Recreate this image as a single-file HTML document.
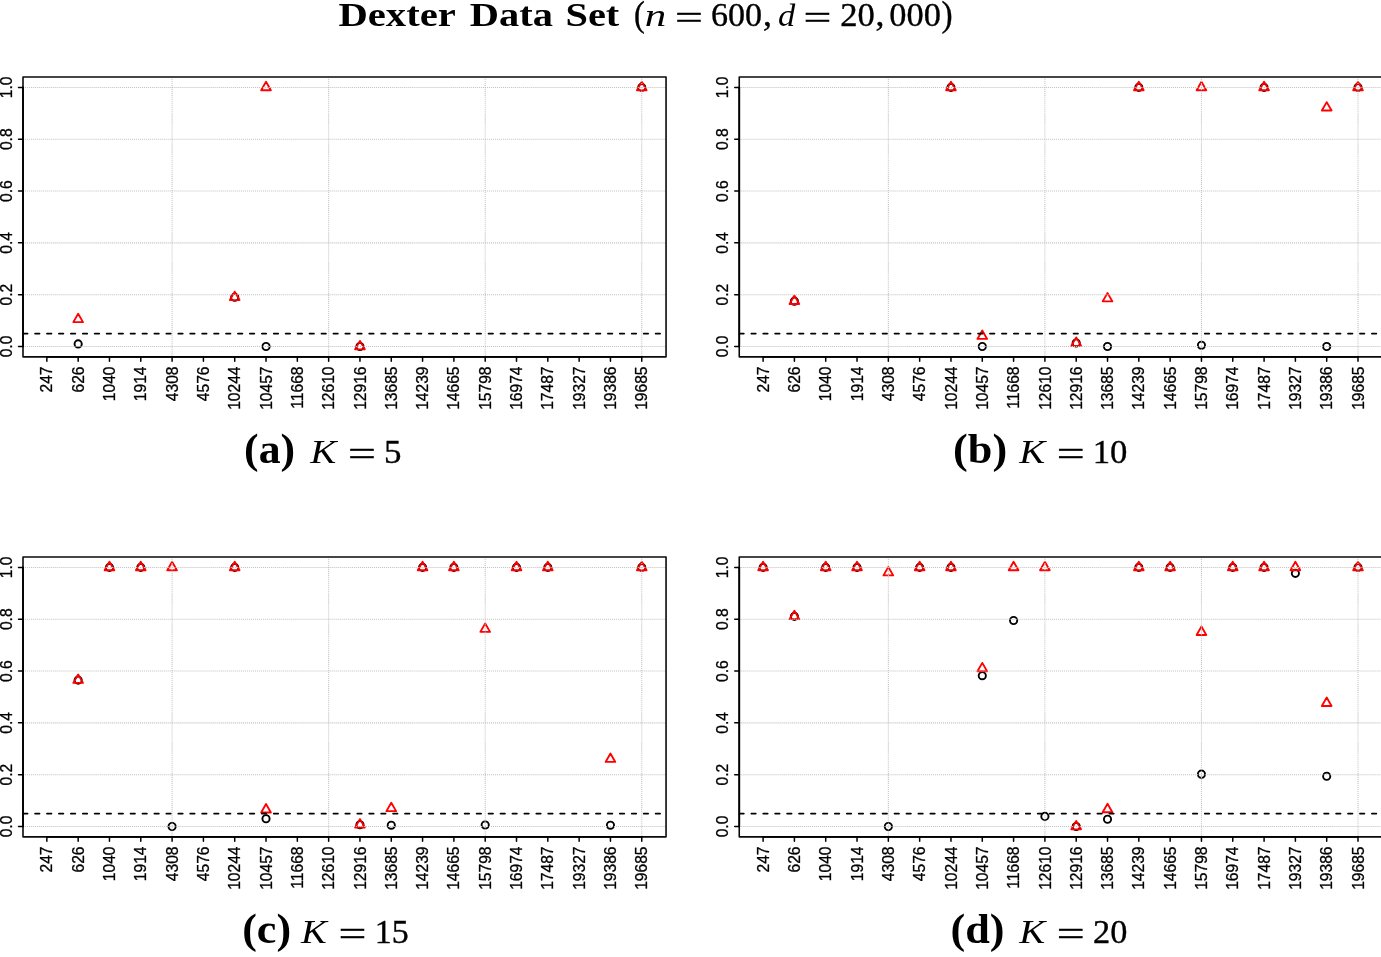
<!DOCTYPE html>
<html lang="en"><head><meta charset="utf-8"><title>Dexter Data Set</title>
<style>
html,body{margin:0;padding:0;background:#fff}
body{width:1381px;height:957px;overflow:hidden}
svg{display:block}
.c{fill:none;stroke:#000;stroke-width:1.9}
.t{fill:none;stroke:#f00;stroke-width:1.85;stroke-linejoin:round}
.g{stroke:#c4c4c4;stroke-width:1.05;stroke-dasharray:1.1 0.917;fill:none}
.d{stroke:#000;stroke-width:1.7;stroke-dasharray:4.5 7.434;stroke-linecap:round;fill:none}
.b{fill:none;stroke:#0a0a0a;stroke-width:1.6;stroke-linejoin:round}
.x{stroke:#000;stroke-width:1.8;stroke-linecap:round}
.k{stroke:#000;stroke-width:1.5;stroke-linecap:round}
.a{font-family:"Liberation Sans",Arial,Helvetica,sans-serif;font-size:15.6px;fill:#000;stroke:#000;stroke-width:0.3px}
.tl{font-family:"Liberation Serif","Times New Roman",serif;font-weight:bold;font-size:33px;fill:#000}
.cb{font-family:"Liberation Serif","Times New Roman",serif;font-weight:bold;font-size:42px;fill:#000}
.m{font-family:"Liberation Serif","Times New Roman",serif;font-size:32px;fill:#000;stroke:#000;stroke-width:0.35px}
.mi{font-family:"Liberation Serif","Times New Roman",serif;font-style:italic;font-size:32px;fill:#000}
</style></head>
<body>
<svg width="1381" height="957" viewBox="0 0 1381 957">
<rect width="1381" height="957" fill="#fff"/>
<g transform="translate(0,0)">
<circle cx="78.16" cy="343.91" r="3.6" class="c"/>
<circle cx="234.72" cy="297.27" r="3.6" class="c"/>
<circle cx="266.03" cy="346.50" r="3.6" class="c"/>
<circle cx="359.96" cy="346.50" r="3.6" class="c"/>
<circle cx="641.76" cy="87.40" r="3.6" class="c"/>
<path d="M78.16 313.70L83.01 322.09L73.31 322.09Z" class="t"/>
<path d="M234.72 291.67L239.56 300.07L229.87 300.07Z" class="t"/>
<path d="M266.03 81.80L270.88 90.20L261.18 90.20Z" class="t"/>
<path d="M359.96 340.90L364.81 349.30L355.11 349.30Z" class="t"/>
<path d="M641.76 81.80L646.61 90.20L636.91 90.20Z" class="t"/>
<line x1="172.09" x2="172.09" y1="76.97" y2="356.85" class="g"/>
<line x1="328.65" x2="328.65" y1="76.97" y2="356.85" class="g"/>
<line x1="485.20" x2="485.20" y1="76.97" y2="356.85" class="g"/>
<line x1="641.76" x2="641.76" y1="76.97" y2="356.85" class="g"/>
<line x1="23.0" x2="666.05" y1="346.50" y2="346.50" class="g"/>
<line x1="23.0" x2="666.05" y1="294.68" y2="294.68" class="g"/>
<line x1="23.0" x2="666.05" y1="242.86" y2="242.86" class="g"/>
<line x1="23.0" x2="666.05" y1="191.04" y2="191.04" class="g"/>
<line x1="23.0" x2="666.05" y1="139.22" y2="139.22" class="g"/>
<line x1="23.0" x2="666.05" y1="87.40" y2="87.40" class="g"/>
<line x1="23.1" x2="666.05" y1="333.55" y2="333.55" class="d"/>
<rect x="23.0" y="76.97" width="643.05" height="279.88" class="b"/>
<line x1="46.85" x2="641.76" y1="356.8" y2="356.8" class="x"/>
<line x1="23.0" x2="23.0" y1="346.50" y2="87.40" class="x"/>
<line x1="46.85" x2="46.85" y1="356.85" y2="361.25" class="k"/>
<text transform="translate(52.45,366.45) rotate(-90)" text-anchor="end" class="a">247</text>
<line x1="78.16" x2="78.16" y1="356.85" y2="361.25" class="k"/>
<text transform="translate(83.76,366.45) rotate(-90)" text-anchor="end" class="a">626</text>
<line x1="109.47" x2="109.47" y1="356.85" y2="361.25" class="k"/>
<text transform="translate(115.07,366.45) rotate(-90)" text-anchor="end" class="a">1040</text>
<line x1="140.78" x2="140.78" y1="356.85" y2="361.25" class="k"/>
<text transform="translate(146.38,366.45) rotate(-90)" text-anchor="end" class="a">1914</text>
<line x1="172.09" x2="172.09" y1="356.85" y2="361.25" class="k"/>
<text transform="translate(177.69,366.45) rotate(-90)" text-anchor="end" class="a">4308</text>
<line x1="203.41" x2="203.41" y1="356.85" y2="361.25" class="k"/>
<text transform="translate(209.00,366.45) rotate(-90)" text-anchor="end" class="a">4576</text>
<line x1="234.72" x2="234.72" y1="356.85" y2="361.25" class="k"/>
<text transform="translate(240.32,366.45) rotate(-90)" text-anchor="end" class="a">10244</text>
<line x1="266.03" x2="266.03" y1="356.85" y2="361.25" class="k"/>
<text transform="translate(271.63,366.45) rotate(-90)" text-anchor="end" class="a">10457</text>
<line x1="297.34" x2="297.34" y1="356.85" y2="361.25" class="k"/>
<text transform="translate(302.94,366.45) rotate(-90)" text-anchor="end" class="a">11668</text>
<line x1="328.65" x2="328.65" y1="356.85" y2="361.25" class="k"/>
<text transform="translate(334.25,366.45) rotate(-90)" text-anchor="end" class="a">12610</text>
<line x1="359.96" x2="359.96" y1="356.85" y2="361.25" class="k"/>
<text transform="translate(365.56,366.45) rotate(-90)" text-anchor="end" class="a">12916</text>
<line x1="391.27" x2="391.27" y1="356.85" y2="361.25" class="k"/>
<text transform="translate(396.87,366.45) rotate(-90)" text-anchor="end" class="a">13685</text>
<line x1="422.58" x2="422.58" y1="356.85" y2="361.25" class="k"/>
<text transform="translate(428.18,366.45) rotate(-90)" text-anchor="end" class="a">14239</text>
<line x1="453.89" x2="453.89" y1="356.85" y2="361.25" class="k"/>
<text transform="translate(459.49,366.45) rotate(-90)" text-anchor="end" class="a">14665</text>
<line x1="485.20" x2="485.20" y1="356.85" y2="361.25" class="k"/>
<text transform="translate(490.80,366.45) rotate(-90)" text-anchor="end" class="a">15798</text>
<line x1="516.51" x2="516.51" y1="356.85" y2="361.25" class="k"/>
<text transform="translate(522.12,366.45) rotate(-90)" text-anchor="end" class="a">16974</text>
<line x1="547.83" x2="547.83" y1="356.85" y2="361.25" class="k"/>
<text transform="translate(553.43,366.45) rotate(-90)" text-anchor="end" class="a">17487</text>
<line x1="579.14" x2="579.14" y1="356.85" y2="361.25" class="k"/>
<text transform="translate(584.74,366.45) rotate(-90)" text-anchor="end" class="a">19327</text>
<line x1="610.45" x2="610.45" y1="356.85" y2="361.25" class="k"/>
<text transform="translate(616.05,366.45) rotate(-90)" text-anchor="end" class="a">19386</text>
<line x1="641.76" x2="641.76" y1="356.85" y2="361.25" class="k"/>
<text transform="translate(647.36,366.45) rotate(-90)" text-anchor="end" class="a">19685</text>
<line x1="23.0" x2="18.5" y1="346.50" y2="346.50" class="k"/>
<text transform="translate(11.55,346.50) rotate(-90)" text-anchor="middle" class="a">0.0</text>
<line x1="23.0" x2="18.5" y1="294.68" y2="294.68" class="k"/>
<text transform="translate(11.55,294.68) rotate(-90)" text-anchor="middle" class="a">0.2</text>
<line x1="23.0" x2="18.5" y1="242.86" y2="242.86" class="k"/>
<text transform="translate(11.55,242.86) rotate(-90)" text-anchor="middle" class="a">0.4</text>
<line x1="23.0" x2="18.5" y1="191.04" y2="191.04" class="k"/>
<text transform="translate(11.55,191.04) rotate(-90)" text-anchor="middle" class="a">0.6</text>
<line x1="23.0" x2="18.5" y1="139.22" y2="139.22" class="k"/>
<text transform="translate(11.55,139.22) rotate(-90)" text-anchor="middle" class="a">0.8</text>
<line x1="23.0" x2="18.5" y1="87.40" y2="87.40" class="k"/>
<text transform="translate(11.55,87.40) rotate(-90)" text-anchor="middle" class="a">1.0</text>
</g>
<g transform="translate(716.25,0)">
<circle cx="78.16" cy="301.16" r="3.6" class="c"/>
<circle cx="234.72" cy="87.40" r="3.6" class="c"/>
<circle cx="266.03" cy="346.50" r="3.6" class="c"/>
<circle cx="359.96" cy="343.00" r="3.6" class="c"/>
<circle cx="391.27" cy="346.50" r="3.6" class="c"/>
<circle cx="422.58" cy="87.40" r="3.6" class="c"/>
<circle cx="485.20" cy="345.20" r="3.6" class="c"/>
<circle cx="547.83" cy="87.40" r="3.6" class="c"/>
<circle cx="610.45" cy="346.50" r="3.6" class="c"/>
<circle cx="641.76" cy="87.40" r="3.6" class="c"/>
<path d="M78.16 295.56L83.01 303.96L73.31 303.96Z" class="t"/>
<path d="M234.72 81.80L239.56 90.20L229.87 90.20Z" class="t"/>
<path d="M266.03 330.54L270.88 338.94L261.18 338.94Z" class="t"/>
<path d="M359.96 337.40L364.81 345.80L355.11 345.80Z" class="t"/>
<path d="M391.27 292.97L396.12 301.37L386.42 301.37Z" class="t"/>
<path d="M422.58 81.80L427.43 90.20L417.73 90.20Z" class="t"/>
<path d="M485.20 81.80L490.05 90.20L480.36 90.20Z" class="t"/>
<path d="M547.83 81.80L552.67 90.20L542.98 90.20Z" class="t"/>
<path d="M610.45 102.14L615.30 110.54L605.60 110.54Z" class="t"/>
<path d="M641.76 81.80L646.61 90.20L636.91 90.20Z" class="t"/>
<line x1="172.09" x2="172.09" y1="76.97" y2="356.85" class="g"/>
<line x1="328.65" x2="328.65" y1="76.97" y2="356.85" class="g"/>
<line x1="485.20" x2="485.20" y1="76.97" y2="356.85" class="g"/>
<line x1="641.76" x2="641.76" y1="76.97" y2="356.85" class="g"/>
<line x1="23.0" x2="666.05" y1="346.50" y2="346.50" class="g"/>
<line x1="23.0" x2="666.05" y1="294.68" y2="294.68" class="g"/>
<line x1="23.0" x2="666.05" y1="242.86" y2="242.86" class="g"/>
<line x1="23.0" x2="666.05" y1="191.04" y2="191.04" class="g"/>
<line x1="23.0" x2="666.05" y1="139.22" y2="139.22" class="g"/>
<line x1="23.0" x2="666.05" y1="87.40" y2="87.40" class="g"/>
<line x1="23.1" x2="666.05" y1="333.55" y2="333.55" class="d"/>
<rect x="23.0" y="76.97" width="643.05" height="279.88" class="b"/>
<line x1="46.85" x2="641.76" y1="356.8" y2="356.8" class="x"/>
<line x1="23.0" x2="23.0" y1="346.50" y2="87.40" class="x"/>
<line x1="46.85" x2="46.85" y1="356.85" y2="361.25" class="k"/>
<text transform="translate(52.45,366.45) rotate(-90)" text-anchor="end" class="a">247</text>
<line x1="78.16" x2="78.16" y1="356.85" y2="361.25" class="k"/>
<text transform="translate(83.76,366.45) rotate(-90)" text-anchor="end" class="a">626</text>
<line x1="109.47" x2="109.47" y1="356.85" y2="361.25" class="k"/>
<text transform="translate(115.07,366.45) rotate(-90)" text-anchor="end" class="a">1040</text>
<line x1="140.78" x2="140.78" y1="356.85" y2="361.25" class="k"/>
<text transform="translate(146.38,366.45) rotate(-90)" text-anchor="end" class="a">1914</text>
<line x1="172.09" x2="172.09" y1="356.85" y2="361.25" class="k"/>
<text transform="translate(177.69,366.45) rotate(-90)" text-anchor="end" class="a">4308</text>
<line x1="203.41" x2="203.41" y1="356.85" y2="361.25" class="k"/>
<text transform="translate(209.00,366.45) rotate(-90)" text-anchor="end" class="a">4576</text>
<line x1="234.72" x2="234.72" y1="356.85" y2="361.25" class="k"/>
<text transform="translate(240.32,366.45) rotate(-90)" text-anchor="end" class="a">10244</text>
<line x1="266.03" x2="266.03" y1="356.85" y2="361.25" class="k"/>
<text transform="translate(271.63,366.45) rotate(-90)" text-anchor="end" class="a">10457</text>
<line x1="297.34" x2="297.34" y1="356.85" y2="361.25" class="k"/>
<text transform="translate(302.94,366.45) rotate(-90)" text-anchor="end" class="a">11668</text>
<line x1="328.65" x2="328.65" y1="356.85" y2="361.25" class="k"/>
<text transform="translate(334.25,366.45) rotate(-90)" text-anchor="end" class="a">12610</text>
<line x1="359.96" x2="359.96" y1="356.85" y2="361.25" class="k"/>
<text transform="translate(365.56,366.45) rotate(-90)" text-anchor="end" class="a">12916</text>
<line x1="391.27" x2="391.27" y1="356.85" y2="361.25" class="k"/>
<text transform="translate(396.87,366.45) rotate(-90)" text-anchor="end" class="a">13685</text>
<line x1="422.58" x2="422.58" y1="356.85" y2="361.25" class="k"/>
<text transform="translate(428.18,366.45) rotate(-90)" text-anchor="end" class="a">14239</text>
<line x1="453.89" x2="453.89" y1="356.85" y2="361.25" class="k"/>
<text transform="translate(459.49,366.45) rotate(-90)" text-anchor="end" class="a">14665</text>
<line x1="485.20" x2="485.20" y1="356.85" y2="361.25" class="k"/>
<text transform="translate(490.80,366.45) rotate(-90)" text-anchor="end" class="a">15798</text>
<line x1="516.51" x2="516.51" y1="356.85" y2="361.25" class="k"/>
<text transform="translate(522.12,366.45) rotate(-90)" text-anchor="end" class="a">16974</text>
<line x1="547.83" x2="547.83" y1="356.85" y2="361.25" class="k"/>
<text transform="translate(553.43,366.45) rotate(-90)" text-anchor="end" class="a">17487</text>
<line x1="579.14" x2="579.14" y1="356.85" y2="361.25" class="k"/>
<text transform="translate(584.74,366.45) rotate(-90)" text-anchor="end" class="a">19327</text>
<line x1="610.45" x2="610.45" y1="356.85" y2="361.25" class="k"/>
<text transform="translate(616.05,366.45) rotate(-90)" text-anchor="end" class="a">19386</text>
<line x1="641.76" x2="641.76" y1="356.85" y2="361.25" class="k"/>
<text transform="translate(647.36,366.45) rotate(-90)" text-anchor="end" class="a">19685</text>
<line x1="23.0" x2="18.5" y1="346.50" y2="346.50" class="k"/>
<text transform="translate(11.55,346.50) rotate(-90)" text-anchor="middle" class="a">0.0</text>
<line x1="23.0" x2="18.5" y1="294.68" y2="294.68" class="k"/>
<text transform="translate(11.55,294.68) rotate(-90)" text-anchor="middle" class="a">0.2</text>
<line x1="23.0" x2="18.5" y1="242.86" y2="242.86" class="k"/>
<text transform="translate(11.55,242.86) rotate(-90)" text-anchor="middle" class="a">0.4</text>
<line x1="23.0" x2="18.5" y1="191.04" y2="191.04" class="k"/>
<text transform="translate(11.55,191.04) rotate(-90)" text-anchor="middle" class="a">0.6</text>
<line x1="23.0" x2="18.5" y1="139.22" y2="139.22" class="k"/>
<text transform="translate(11.55,139.22) rotate(-90)" text-anchor="middle" class="a">0.8</text>
<line x1="23.0" x2="18.5" y1="87.40" y2="87.40" class="k"/>
<text transform="translate(11.55,87.40) rotate(-90)" text-anchor="middle" class="a">1.0</text>
</g>
<g transform="translate(0,480)">
<circle cx="78.16" cy="200.11" r="3.6" class="c"/>
<circle cx="109.47" cy="87.40" r="3.6" class="c"/>
<circle cx="140.78" cy="87.40" r="3.6" class="c"/>
<circle cx="172.09" cy="346.50" r="3.6" class="c"/>
<circle cx="234.72" cy="87.40" r="3.6" class="c"/>
<circle cx="266.03" cy="338.73" r="3.6" class="c"/>
<circle cx="359.96" cy="344.69" r="3.6" class="c"/>
<circle cx="391.27" cy="345.20" r="3.6" class="c"/>
<circle cx="422.58" cy="87.40" r="3.6" class="c"/>
<circle cx="453.89" cy="87.40" r="3.6" class="c"/>
<circle cx="485.20" cy="344.95" r="3.6" class="c"/>
<circle cx="516.51" cy="87.40" r="3.6" class="c"/>
<circle cx="547.83" cy="87.40" r="3.6" class="c"/>
<circle cx="610.45" cy="345.20" r="3.6" class="c"/>
<circle cx="641.76" cy="87.40" r="3.6" class="c"/>
<path d="M78.16 194.51L83.01 202.91L73.31 202.91Z" class="t"/>
<path d="M109.47 81.80L114.32 90.20L104.62 90.20Z" class="t"/>
<path d="M140.78 81.80L145.63 90.20L135.93 90.20Z" class="t"/>
<path d="M172.09 81.80L176.94 90.20L167.25 90.20Z" class="t"/>
<path d="M234.72 81.80L239.56 90.20L229.87 90.20Z" class="t"/>
<path d="M266.03 324.06L270.88 332.46L261.18 332.46Z" class="t"/>
<path d="M359.96 339.09L364.81 347.49L355.11 347.49Z" class="t"/>
<path d="M391.27 322.76L396.12 331.16L386.42 331.16Z" class="t"/>
<path d="M422.58 81.80L427.43 90.20L417.73 90.20Z" class="t"/>
<path d="M453.89 81.80L458.74 90.20L449.04 90.20Z" class="t"/>
<path d="M485.20 143.47L490.05 151.87L480.36 151.87Z" class="t"/>
<path d="M516.51 81.80L521.36 90.20L511.67 90.20Z" class="t"/>
<path d="M547.83 81.80L552.67 90.20L542.98 90.20Z" class="t"/>
<path d="M610.45 273.54L615.30 281.93L605.60 281.93Z" class="t"/>
<path d="M641.76 81.80L646.61 90.20L636.91 90.20Z" class="t"/>
<line x1="172.09" x2="172.09" y1="76.97" y2="356.85" class="g"/>
<line x1="328.65" x2="328.65" y1="76.97" y2="356.85" class="g"/>
<line x1="485.20" x2="485.20" y1="76.97" y2="356.85" class="g"/>
<line x1="641.76" x2="641.76" y1="76.97" y2="356.85" class="g"/>
<line x1="23.0" x2="666.05" y1="346.50" y2="346.50" class="g"/>
<line x1="23.0" x2="666.05" y1="294.68" y2="294.68" class="g"/>
<line x1="23.0" x2="666.05" y1="242.86" y2="242.86" class="g"/>
<line x1="23.0" x2="666.05" y1="191.04" y2="191.04" class="g"/>
<line x1="23.0" x2="666.05" y1="139.22" y2="139.22" class="g"/>
<line x1="23.0" x2="666.05" y1="87.40" y2="87.40" class="g"/>
<line x1="23.1" x2="666.05" y1="333.55" y2="333.55" class="d"/>
<rect x="23.0" y="76.97" width="643.05" height="279.88" class="b"/>
<line x1="46.85" x2="641.76" y1="356.8" y2="356.8" class="x"/>
<line x1="23.0" x2="23.0" y1="346.50" y2="87.40" class="x"/>
<line x1="46.85" x2="46.85" y1="356.85" y2="361.25" class="k"/>
<text transform="translate(52.45,366.45) rotate(-90)" text-anchor="end" class="a">247</text>
<line x1="78.16" x2="78.16" y1="356.85" y2="361.25" class="k"/>
<text transform="translate(83.76,366.45) rotate(-90)" text-anchor="end" class="a">626</text>
<line x1="109.47" x2="109.47" y1="356.85" y2="361.25" class="k"/>
<text transform="translate(115.07,366.45) rotate(-90)" text-anchor="end" class="a">1040</text>
<line x1="140.78" x2="140.78" y1="356.85" y2="361.25" class="k"/>
<text transform="translate(146.38,366.45) rotate(-90)" text-anchor="end" class="a">1914</text>
<line x1="172.09" x2="172.09" y1="356.85" y2="361.25" class="k"/>
<text transform="translate(177.69,366.45) rotate(-90)" text-anchor="end" class="a">4308</text>
<line x1="203.41" x2="203.41" y1="356.85" y2="361.25" class="k"/>
<text transform="translate(209.00,366.45) rotate(-90)" text-anchor="end" class="a">4576</text>
<line x1="234.72" x2="234.72" y1="356.85" y2="361.25" class="k"/>
<text transform="translate(240.32,366.45) rotate(-90)" text-anchor="end" class="a">10244</text>
<line x1="266.03" x2="266.03" y1="356.85" y2="361.25" class="k"/>
<text transform="translate(271.63,366.45) rotate(-90)" text-anchor="end" class="a">10457</text>
<line x1="297.34" x2="297.34" y1="356.85" y2="361.25" class="k"/>
<text transform="translate(302.94,366.45) rotate(-90)" text-anchor="end" class="a">11668</text>
<line x1="328.65" x2="328.65" y1="356.85" y2="361.25" class="k"/>
<text transform="translate(334.25,366.45) rotate(-90)" text-anchor="end" class="a">12610</text>
<line x1="359.96" x2="359.96" y1="356.85" y2="361.25" class="k"/>
<text transform="translate(365.56,366.45) rotate(-90)" text-anchor="end" class="a">12916</text>
<line x1="391.27" x2="391.27" y1="356.85" y2="361.25" class="k"/>
<text transform="translate(396.87,366.45) rotate(-90)" text-anchor="end" class="a">13685</text>
<line x1="422.58" x2="422.58" y1="356.85" y2="361.25" class="k"/>
<text transform="translate(428.18,366.45) rotate(-90)" text-anchor="end" class="a">14239</text>
<line x1="453.89" x2="453.89" y1="356.85" y2="361.25" class="k"/>
<text transform="translate(459.49,366.45) rotate(-90)" text-anchor="end" class="a">14665</text>
<line x1="485.20" x2="485.20" y1="356.85" y2="361.25" class="k"/>
<text transform="translate(490.80,366.45) rotate(-90)" text-anchor="end" class="a">15798</text>
<line x1="516.51" x2="516.51" y1="356.85" y2="361.25" class="k"/>
<text transform="translate(522.12,366.45) rotate(-90)" text-anchor="end" class="a">16974</text>
<line x1="547.83" x2="547.83" y1="356.85" y2="361.25" class="k"/>
<text transform="translate(553.43,366.45) rotate(-90)" text-anchor="end" class="a">17487</text>
<line x1="579.14" x2="579.14" y1="356.85" y2="361.25" class="k"/>
<text transform="translate(584.74,366.45) rotate(-90)" text-anchor="end" class="a">19327</text>
<line x1="610.45" x2="610.45" y1="356.85" y2="361.25" class="k"/>
<text transform="translate(616.05,366.45) rotate(-90)" text-anchor="end" class="a">19386</text>
<line x1="641.76" x2="641.76" y1="356.85" y2="361.25" class="k"/>
<text transform="translate(647.36,366.45) rotate(-90)" text-anchor="end" class="a">19685</text>
<line x1="23.0" x2="18.5" y1="346.50" y2="346.50" class="k"/>
<text transform="translate(11.55,346.50) rotate(-90)" text-anchor="middle" class="a">0.0</text>
<line x1="23.0" x2="18.5" y1="294.68" y2="294.68" class="k"/>
<text transform="translate(11.55,294.68) rotate(-90)" text-anchor="middle" class="a">0.2</text>
<line x1="23.0" x2="18.5" y1="242.86" y2="242.86" class="k"/>
<text transform="translate(11.55,242.86) rotate(-90)" text-anchor="middle" class="a">0.4</text>
<line x1="23.0" x2="18.5" y1="191.04" y2="191.04" class="k"/>
<text transform="translate(11.55,191.04) rotate(-90)" text-anchor="middle" class="a">0.6</text>
<line x1="23.0" x2="18.5" y1="139.22" y2="139.22" class="k"/>
<text transform="translate(11.55,139.22) rotate(-90)" text-anchor="middle" class="a">0.8</text>
<line x1="23.0" x2="18.5" y1="87.40" y2="87.40" class="k"/>
<text transform="translate(11.55,87.40) rotate(-90)" text-anchor="middle" class="a">1.0</text>
</g>
<g transform="translate(716.25,480)">
<circle cx="46.85" cy="87.40" r="3.6" class="c"/>
<circle cx="78.16" cy="136.37" r="3.6" class="c"/>
<circle cx="109.47" cy="87.40" r="3.6" class="c"/>
<circle cx="140.78" cy="87.40" r="3.6" class="c"/>
<circle cx="172.09" cy="346.50" r="3.6" class="c"/>
<circle cx="203.41" cy="87.40" r="3.6" class="c"/>
<circle cx="234.72" cy="87.40" r="3.6" class="c"/>
<circle cx="266.03" cy="195.70" r="3.6" class="c"/>
<circle cx="297.34" cy="140.52" r="3.6" class="c"/>
<circle cx="328.65" cy="336.40" r="3.6" class="c"/>
<circle cx="359.96" cy="346.50" r="3.6" class="c"/>
<circle cx="391.27" cy="339.25" r="3.6" class="c"/>
<circle cx="422.58" cy="87.40" r="3.6" class="c"/>
<circle cx="453.89" cy="87.40" r="3.6" class="c"/>
<circle cx="485.20" cy="294.16" r="3.6" class="c"/>
<circle cx="516.51" cy="87.40" r="3.6" class="c"/>
<circle cx="547.83" cy="87.40" r="3.6" class="c"/>
<circle cx="579.14" cy="93.36" r="3.6" class="c"/>
<circle cx="610.45" cy="296.23" r="3.6" class="c"/>
<circle cx="641.76" cy="87.40" r="3.6" class="c"/>
<path d="M46.85 81.80L51.70 90.20L42.00 90.20Z" class="t"/>
<path d="M78.16 130.77L83.01 139.17L73.31 139.17Z" class="t"/>
<path d="M109.47 81.80L114.32 90.20L104.62 90.20Z" class="t"/>
<path d="M140.78 81.80L145.63 90.20L135.93 90.20Z" class="t"/>
<path d="M172.09 86.98L176.94 95.38L167.25 95.38Z" class="t"/>
<path d="M203.41 81.80L208.25 90.20L198.56 90.20Z" class="t"/>
<path d="M234.72 81.80L239.56 90.20L229.87 90.20Z" class="t"/>
<path d="M266.03 182.85L270.88 191.25L261.18 191.25Z" class="t"/>
<path d="M297.34 81.80L302.19 90.20L292.49 90.20Z" class="t"/>
<path d="M328.65 81.80L333.50 90.20L323.80 90.20Z" class="t"/>
<path d="M359.96 340.90L364.81 349.30L355.11 349.30Z" class="t"/>
<path d="M391.27 323.80L396.12 332.20L386.42 332.20Z" class="t"/>
<path d="M422.58 81.80L427.43 90.20L417.73 90.20Z" class="t"/>
<path d="M453.89 81.80L458.74 90.20L449.04 90.20Z" class="t"/>
<path d="M485.20 146.58L490.05 154.97L480.36 154.97Z" class="t"/>
<path d="M516.51 81.80L521.36 90.20L511.67 90.20Z" class="t"/>
<path d="M547.83 81.80L552.67 90.20L542.98 90.20Z" class="t"/>
<path d="M579.14 81.80L583.99 90.20L574.29 90.20Z" class="t"/>
<path d="M610.45 217.57L615.30 225.97L605.60 225.97Z" class="t"/>
<path d="M641.76 81.80L646.61 90.20L636.91 90.20Z" class="t"/>
<line x1="172.09" x2="172.09" y1="76.97" y2="356.85" class="g"/>
<line x1="328.65" x2="328.65" y1="76.97" y2="356.85" class="g"/>
<line x1="485.20" x2="485.20" y1="76.97" y2="356.85" class="g"/>
<line x1="641.76" x2="641.76" y1="76.97" y2="356.85" class="g"/>
<line x1="23.0" x2="666.05" y1="346.50" y2="346.50" class="g"/>
<line x1="23.0" x2="666.05" y1="294.68" y2="294.68" class="g"/>
<line x1="23.0" x2="666.05" y1="242.86" y2="242.86" class="g"/>
<line x1="23.0" x2="666.05" y1="191.04" y2="191.04" class="g"/>
<line x1="23.0" x2="666.05" y1="139.22" y2="139.22" class="g"/>
<line x1="23.0" x2="666.05" y1="87.40" y2="87.40" class="g"/>
<line x1="23.1" x2="666.05" y1="333.55" y2="333.55" class="d"/>
<rect x="23.0" y="76.97" width="643.05" height="279.88" class="b"/>
<line x1="46.85" x2="641.76" y1="356.8" y2="356.8" class="x"/>
<line x1="23.0" x2="23.0" y1="346.50" y2="87.40" class="x"/>
<line x1="46.85" x2="46.85" y1="356.85" y2="361.25" class="k"/>
<text transform="translate(52.45,366.45) rotate(-90)" text-anchor="end" class="a">247</text>
<line x1="78.16" x2="78.16" y1="356.85" y2="361.25" class="k"/>
<text transform="translate(83.76,366.45) rotate(-90)" text-anchor="end" class="a">626</text>
<line x1="109.47" x2="109.47" y1="356.85" y2="361.25" class="k"/>
<text transform="translate(115.07,366.45) rotate(-90)" text-anchor="end" class="a">1040</text>
<line x1="140.78" x2="140.78" y1="356.85" y2="361.25" class="k"/>
<text transform="translate(146.38,366.45) rotate(-90)" text-anchor="end" class="a">1914</text>
<line x1="172.09" x2="172.09" y1="356.85" y2="361.25" class="k"/>
<text transform="translate(177.69,366.45) rotate(-90)" text-anchor="end" class="a">4308</text>
<line x1="203.41" x2="203.41" y1="356.85" y2="361.25" class="k"/>
<text transform="translate(209.00,366.45) rotate(-90)" text-anchor="end" class="a">4576</text>
<line x1="234.72" x2="234.72" y1="356.85" y2="361.25" class="k"/>
<text transform="translate(240.32,366.45) rotate(-90)" text-anchor="end" class="a">10244</text>
<line x1="266.03" x2="266.03" y1="356.85" y2="361.25" class="k"/>
<text transform="translate(271.63,366.45) rotate(-90)" text-anchor="end" class="a">10457</text>
<line x1="297.34" x2="297.34" y1="356.85" y2="361.25" class="k"/>
<text transform="translate(302.94,366.45) rotate(-90)" text-anchor="end" class="a">11668</text>
<line x1="328.65" x2="328.65" y1="356.85" y2="361.25" class="k"/>
<text transform="translate(334.25,366.45) rotate(-90)" text-anchor="end" class="a">12610</text>
<line x1="359.96" x2="359.96" y1="356.85" y2="361.25" class="k"/>
<text transform="translate(365.56,366.45) rotate(-90)" text-anchor="end" class="a">12916</text>
<line x1="391.27" x2="391.27" y1="356.85" y2="361.25" class="k"/>
<text transform="translate(396.87,366.45) rotate(-90)" text-anchor="end" class="a">13685</text>
<line x1="422.58" x2="422.58" y1="356.85" y2="361.25" class="k"/>
<text transform="translate(428.18,366.45) rotate(-90)" text-anchor="end" class="a">14239</text>
<line x1="453.89" x2="453.89" y1="356.85" y2="361.25" class="k"/>
<text transform="translate(459.49,366.45) rotate(-90)" text-anchor="end" class="a">14665</text>
<line x1="485.20" x2="485.20" y1="356.85" y2="361.25" class="k"/>
<text transform="translate(490.80,366.45) rotate(-90)" text-anchor="end" class="a">15798</text>
<line x1="516.51" x2="516.51" y1="356.85" y2="361.25" class="k"/>
<text transform="translate(522.12,366.45) rotate(-90)" text-anchor="end" class="a">16974</text>
<line x1="547.83" x2="547.83" y1="356.85" y2="361.25" class="k"/>
<text transform="translate(553.43,366.45) rotate(-90)" text-anchor="end" class="a">17487</text>
<line x1="579.14" x2="579.14" y1="356.85" y2="361.25" class="k"/>
<text transform="translate(584.74,366.45) rotate(-90)" text-anchor="end" class="a">19327</text>
<line x1="610.45" x2="610.45" y1="356.85" y2="361.25" class="k"/>
<text transform="translate(616.05,366.45) rotate(-90)" text-anchor="end" class="a">19386</text>
<line x1="641.76" x2="641.76" y1="356.85" y2="361.25" class="k"/>
<text transform="translate(647.36,366.45) rotate(-90)" text-anchor="end" class="a">19685</text>
<line x1="23.0" x2="18.5" y1="346.50" y2="346.50" class="k"/>
<text transform="translate(11.55,346.50) rotate(-90)" text-anchor="middle" class="a">0.0</text>
<line x1="23.0" x2="18.5" y1="294.68" y2="294.68" class="k"/>
<text transform="translate(11.55,294.68) rotate(-90)" text-anchor="middle" class="a">0.2</text>
<line x1="23.0" x2="18.5" y1="242.86" y2="242.86" class="k"/>
<text transform="translate(11.55,242.86) rotate(-90)" text-anchor="middle" class="a">0.4</text>
<line x1="23.0" x2="18.5" y1="191.04" y2="191.04" class="k"/>
<text transform="translate(11.55,191.04) rotate(-90)" text-anchor="middle" class="a">0.6</text>
<line x1="23.0" x2="18.5" y1="139.22" y2="139.22" class="k"/>
<text transform="translate(11.55,139.22) rotate(-90)" text-anchor="middle" class="a">0.8</text>
<line x1="23.0" x2="18.5" y1="87.40" y2="87.40" class="k"/>
<text transform="translate(11.55,87.40) rotate(-90)" text-anchor="middle" class="a">1.0</text>
</g>
<text transform="translate(338.48,25.94) scale(1.2319,1.0368)" class="tl">Dexter</text>
<text transform="translate(469.79,25.94) scale(1.2255,1.0368)" class="tl">Data</text>
<text transform="translate(565.46,26.04) scale(1.2238,1.0455)" class="tl">Set</text>
<text transform="translate(633.88,26.18) scale(1.0125,1.0991)" class="m">(</text>
<text transform="translate(644.82,26.10) scale(1.3434,0.9733)" class="mi">n</text>
<text transform="translate(674.88,29.03) scale(1.5467,1.0710)" class="m">=</text>
<text transform="translate(711.00,26.24) scale(1.0652,1.0372)" class="m">600</text>
<text transform="translate(763.11,26.31) scale(1.1158,1.0788)" class="m">,</text>
<text transform="translate(777.92,25.95) scale(1.0800,0.9911)" class="mi">d</text>
<text transform="translate(803.58,29.03) scale(1.5467,1.0710)" class="m">=</text>
<text transform="translate(840.28,26.24) scale(1.0803,1.0372)" class="m">20</text>
<text transform="translate(875.61,26.31) scale(1.1158,1.0788)" class="m">,</text>
<text transform="translate(889.26,26.24) scale(1.0747,1.0372)" class="m">000</text>
<text transform="translate(941.56,26.18) scale(1.0424,1.0991)" class="m">)</text>
<text transform="translate(244.08,462.68) scale(1.0418,0.9960)" class="cb">(a)</text>
<text transform="translate(310.21,462.90) scale(1.2217,1.0619)" class="mi">K</text>
<text transform="translate(347.88,466.19) scale(1.5467,1.1097)" class="m">=</text>
<text transform="translate(384.09,463.13) scale(1.0923,1.0729)" class="m">5</text>
<text transform="translate(953.06,462.68) scale(1.0534,0.9960)" class="cb">(b)</text>
<text transform="translate(1019.20,462.90) scale(1.2174,1.0619)" class="mi">K</text>
<text transform="translate(1056.68,466.19) scale(1.5467,1.1097)" class="m">=</text>
<text transform="translate(1092.71,463.13) scale(1.0857,1.0605)" class="m">10</text>
<text transform="translate(242.22,942.93) scale(1.0477,0.9960)" class="cb">(c)</text>
<text transform="translate(301.00,943.15) scale(1.2087,1.0619)" class="mi">K</text>
<text transform="translate(338.48,946.44) scale(1.5467,1.1097)" class="m">=</text>
<text transform="translate(374.78,943.38) scale(1.0607,1.0729)" class="m">15</text>
<text transform="translate(950.46,942.93) scale(1.0534,0.9960)" class="cb">(d)</text>
<text transform="translate(1019.20,943.15) scale(1.2174,1.0619)" class="mi">K</text>
<text transform="translate(1056.68,946.44) scale(1.5467,1.1097)" class="m">=</text>
<text transform="translate(1093.09,943.38) scale(1.0735,1.0605)" class="m">20</text>
</svg>
</body></html>
